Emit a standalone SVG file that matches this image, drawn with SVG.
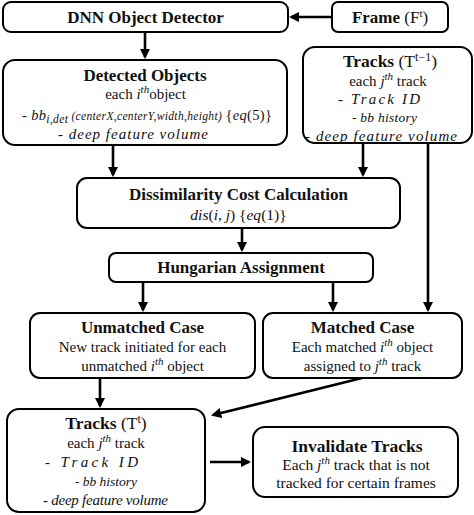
<svg xmlns="http://www.w3.org/2000/svg" width="474" height="515" viewBox="0 0 474 515">
<defs>
<marker id="ah" markerWidth="4" markerHeight="4" refX="3.2" refY="2" orient="auto" markerUnits="strokeWidth">
<path d="M0,0 L4,2 L0,4 Z" fill="#000"/>
</marker>
</defs>
<rect width="474" height="515" fill="#fff"/>
<g font-family="Liberation Serif, serif" text-anchor="middle" fill="#111">
<g fill="#fff" stroke="#000" stroke-width="2">
<rect id="r-dnn" x="3" y="2" width="285" height="30" rx="8"/>
<rect id="r-frame" x="332" y="2" width="116" height="30" rx="6"/>
<rect id="r-det" x="3" y="60" width="284" height="85" rx="12"/>
<rect id="r-tp" x="303" y="47" width="169" height="96" rx="12"/>
<rect id="r-dis" x="77" y="178" width="323" height="50" rx="10"/>
<rect id="r-hun" x="109" y="253" width="264" height="29" rx="7"/>
<rect id="r-unm" x="30" y="313" width="225" height="65" rx="10"/>
<rect id="r-mat" x="263" y="313" width="199" height="65" rx="10"/>
<rect id="r-tc" x="7" y="409" width="198" height="103" rx="12"/>
<rect id="r-inv" x="253" y="427" width="205" height="70" rx="12"/>
</g>
<g id="dnn"><text font-size="17" font-weight="bold" x="145.5" y="23">DNN Object Detector</text></g>
<g id="frame"><text font-size="17" font-weight="bold" x="390" y="23">Frame <tspan font-weight="normal">(F</tspan><tspan font-weight="normal" font-size="11" dy="-6">t</tspan><tspan font-weight="normal" dy="6">)</tspan></text></g>
<g id="detected">
<text font-size="17" font-weight="bold" x="145" y="81">Detected Objects</text>
<text font-size="15" x="145.5" y="99">each <tspan font-style="italic">i</tspan><tspan font-style="italic" font-size="11" dy="-6">th</tspan><tspan dy="6">object</tspan></text>
<text x="147" y="120" font-size="14.5" font-style="italic" textLength="250" lengthAdjust="spacing">- bb<tspan font-size="11.5" dy="3">i,det</tspan><tspan font-size="11.5" dy="-3"> (centerX,centerY,width,height) </tspan><tspan font-style="normal">{</tspan>eq<tspan font-style="normal">(5)}</tspan></text>
<text font-size="15" font-style="italic" x="133" y="139" textLength="150" lengthAdjust="spacing">- deep feature volume</text></g>
<g id="tracksprev">
<text font-size="17.5" font-weight="bold" x="390" y="67">Tracks <tspan font-weight="normal">(T</tspan><tspan font-weight="normal" font-size="12" dy="-6">t−1</tspan><tspan font-weight="normal" dy="6">)</tspan></text>
<text font-size="15" x="388" y="86">each <tspan font-style="italic">j</tspan><tspan font-style="italic" font-size="11" dy="-6">th</tspan><tspan dy="6"> track</tspan></text>
<text font-size="15" font-style="italic" x="379" y="104" textLength="82" lengthAdjust="spacing">-  Track ID</text>
<text font-size="13.5" font-style="italic" x="384.5" y="122" textLength="65" lengthAdjust="spacing">- bb history</text>
<text font-size="15" font-style="italic" x="381" y="141" textLength="152" lengthAdjust="spacing">- deep feature volume</text></g>
<g id="dissim">
<text font-size="17" font-weight="bold" x="238.5" y="200">Dissimilarity Cost Calculation</text>
<text font-size="15.5" x="238.5" y="220"><tspan font-style="italic">dis</tspan>(<tspan font-style="italic">i</tspan>, <tspan font-style="italic">j</tspan>) {<tspan font-style="italic">eq</tspan>(1)}</text></g>
<g id="hungarian"><text font-size="17" font-weight="bold" x="241" y="273">Hungarian Assignment</text></g>
<g id="unmatched">
<text font-size="17" font-weight="bold" x="142.5" y="333">Unmatched Case</text>
<text font-size="15" x="142.5" y="352">New track initiated for each</text>
<text font-size="15" x="142.5" y="371">unmatched <tspan font-style="italic">i</tspan><tspan font-style="italic" font-size="11" dy="-6">th</tspan><tspan dy="6"> object</tspan></text></g>
<g id="matched">
<text font-size="17" font-weight="bold" x="362.5" y="333">Matched Case</text>
<text font-size="15" x="362.5" y="352">Each matched <tspan font-style="italic">i</tspan><tspan font-style="italic" font-size="11" dy="-6">th</tspan><tspan dy="6"> object</tspan></text>
<text font-size="15" x="362.5" y="371">assigned to <tspan font-style="italic">j</tspan><tspan font-style="italic" font-size="11" dy="-6">th</tspan><tspan dy="6"> track</tspan></text></g>
<g id="trackscur">
<text font-size="17.5" font-weight="bold" x="106" y="429">Tracks <tspan font-weight="normal">(T</tspan><tspan font-weight="normal" font-size="12" dy="-6">t</tspan><tspan font-weight="normal" dy="6">)</tspan></text>
<text font-size="15" x="106" y="448">each <tspan font-style="italic">j</tspan><tspan font-style="italic" font-size="11" dy="-6">th</tspan><tspan dy="6"> track</tspan></text>
<text font-size="15" font-style="italic" x="91.5" y="467" textLength="93" lengthAdjust="spacing">-  Track ID</text>
<text font-size="13.5" font-style="italic" x="106" y="486" textLength="62" lengthAdjust="spacing">- bb history</text>
<text font-size="15" font-style="italic" x="105.5" y="505" textLength="125" lengthAdjust="spacing">- deep feature volume</text></g>
<g id="invalidate">
<text font-size="17.5" font-weight="bold" x="357" y="452">Invalidate Tracks</text>
<text font-size="15.5" x="356" y="470">Each <tspan font-style="italic">j</tspan><tspan font-style="italic" font-size="11" dy="-6">th</tspan><tspan dy="6"> track that is not</tspan></text>
<text font-size="15.5" x="356" y="488">tracked for certain frames</text></g>
</g>
<g id="connectors" stroke="#000" stroke-width="2.6" fill="none" marker-end="url(#ah)">
<line x1="332" y1="17" x2="291" y2="17"/>
<line x1="145" y1="32" x2="145" y2="57"/>
<line x1="113" y1="145" x2="113" y2="175"/>
<line x1="363" y1="143" x2="363" y2="175"/>
<line x1="242" y1="228" x2="242" y2="250"/>
<line x1="143" y1="282" x2="143" y2="310"/>
<line x1="333" y1="282" x2="333" y2="310"/>
<line x1="428" y1="143" x2="428" y2="310"/>
<line x1="100" y1="378" x2="100" y2="406"/>
<line x1="362" y1="378" x2="213" y2="415"/>
<line x1="210" y1="462" x2="249" y2="462"/>
</g>
</svg>
